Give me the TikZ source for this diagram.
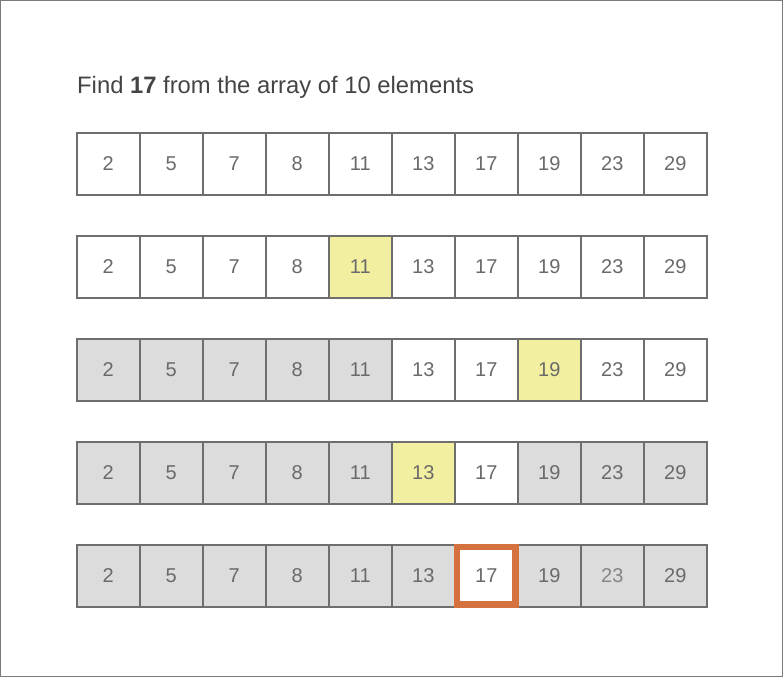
\documentclass[tikz,border=0pt]{standalone}
\usepackage{fontspec}
\setmainfont{Liberation Sans}
\definecolor{frame}{HTML}{7A7A7A}
\definecolor{cellline}{HTML}{6E6E6E}
\definecolor{numtext}{HTML}{6A6A6A}
\definecolor{lightnum}{HTML}{858585}
\definecolor{titletext}{HTML}{444444}
\definecolor{grayfill}{HTML}{DCDCDC}
\definecolor{yellowfill}{HTML}{F2F0A0}
\definecolor{hit}{HTML}{D5713E}
\begin{document}
\begin{tikzpicture}[x=1pt,y=-1pt,
  cellbox/.style={draw=cellline, line width=1.5pt, fill=white, minimum width=63pt, minimum height=62pt, inner sep=0pt, anchor=north west, text=numtext, font=\fontsize{20}{22}\selectfont},
  grayc/.style={fill=grayfill},
  yellowc/.style={fill=yellowfill},
  found/.style={draw=hit, line width=6.4pt}]
\useasboundingbox (0,0) rectangle (783,677);
\draw[frame, line width=1pt] (0.5,0.5) rectangle (782.5,676.5);
\node[anchor=base west, text=titletext, inner sep=0pt, font=\fontsize{23.8}{26}\selectfont] (title) at (77,93) {Find \textbf{17} from the array of 10 elements};
\def\vals{{2,5,7,8,11,13,17,19,23,29}}
% row 0
\foreach \i in {0,...,9} {
  \pgfmathtruncatemacro\v{\vals[\i]}
  \node[cellbox] (c-0-\i) at ({76+63*\i},132) {\v};
}
% row 1
\foreach \i in {0,...,9} {
  \pgfmathtruncatemacro\v{\vals[\i]}
  \ifnum\i=4 \def\st{yellowc}\else\def\st{}\fi
  \node[cellbox,\st] (c-1-\i) at ({76+63*\i},235) {\v};
}
% row 2
\foreach \i in {0,...,9} {
  \pgfmathtruncatemacro\v{\vals[\i]}
  \ifnum\i<5 \def\st{grayc}\else\ifnum\i=7 \def\st{yellowc}\else\def\st{}\fi\fi
  \node[cellbox,\st] (c-2-\i) at ({76+63*\i},338) {\v};
}
% row 3
\foreach \i in {0,...,9} {
  \pgfmathtruncatemacro\v{\vals[\i]}
  \ifnum\i=5 \def\st{yellowc}\else\ifnum\i=6 \def\st{}\else\def\st{grayc}\fi\fi
  \node[cellbox,\st] (c-3-\i) at ({76+63*\i},441) {\v};
}
% row 4
\foreach \i in {0,...,9} {
  \pgfmathtruncatemacro\v{\vals[\i]}
  \ifnum\i=6 \def\st{}\else\def\st{grayc}\fi
  \ifnum\i=8 \def\tc{lightnum}\else\def\tc{numtext}\fi
  \node[cellbox,\st,text=\tc] (c-4-\i) at ({76+63*\i},544) {\v};
}
\draw[found] ([shift={(3.2,3.2)}]c-4-6.north west) rectangle ([shift={(-3.2,-3.2)}]c-4-6.south east);
\end{tikzpicture}
\end{document}
